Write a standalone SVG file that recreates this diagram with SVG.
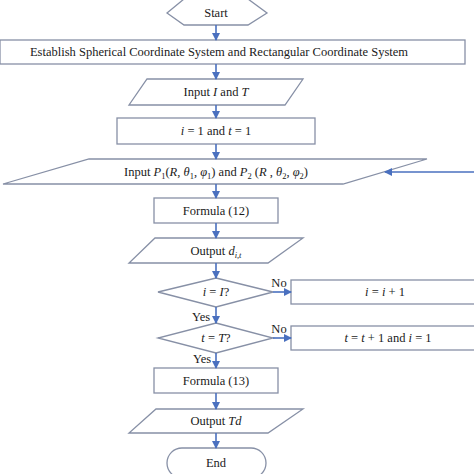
<svg xmlns="http://www.w3.org/2000/svg" width="474" height="474" viewBox="0 0 474 474">
<defs>
<marker id="ah" markerWidth="8" markerHeight="8" refX="7" refY="4" orient="auto" markerUnits="userSpaceOnUse">
<path d="M0,0 L8,4 L0,8 Z" fill="#4a70bf"/>
</marker>
</defs>
<style>
.s{fill:#fff;stroke:#8790a6;stroke-width:1.3}
.c{fill:none;stroke:#4a70bf;stroke-width:1.6;marker-end:url(#ah)}
text{font-family:"Liberation Serif","Times New Roman",serif;font-size:12.5px;fill:#1a1a1a}
.m{text-anchor:middle;dominant-baseline:central}
.i{font-style:italic}
.sub{font-size:8.5px}
</style>
<rect width="474" height="474" fill="#fff"/>
<g id="start"><polygon class="s" points="167,13 184,-1 248,-1 267,13 248,25 184,25"/><text class="m" x="216" y="13">Start</text></g>
<g id="establish"><rect class="s" x="0" y="40" width="465" height="24"/><text class="m" x="219" y="52">Establish Spherical Coordinate System and Rectangular Coordinate System</text></g>
<g id="inputIT"><polygon class="s" points="147,79 303,79 285,105 129,105"/><text class="m" x="216" y="92">Input <tspan class="i">I</tspan> and <tspan class="i">T</tspan></text></g>
<g id="init"><rect class="s" x="117" y="118" width="198" height="26"/><text class="m" x="216" y="131"><tspan class="i">i</tspan> = 1 and <tspan class="i">t</tspan> = 1</text></g>
<g id="inputP"><polygon class="s" points="89,159 427,159 343,184 3,184"/><text x="216" y="175.5" text-anchor="middle">Input <tspan class="i">P</tspan><tspan class="sub" dy="3">1</tspan><tspan dy="-3">(</tspan><tspan class="i">R</tspan>, <tspan class="i">θ</tspan><tspan class="sub" dy="3">1</tspan><tspan dy="-3">, </tspan><tspan class="i">φ</tspan><tspan class="sub" dy="3">1</tspan><tspan dy="-3">) and </tspan><tspan class="i">P</tspan><tspan class="sub" dy="3">2</tspan><tspan dy="-3"> (</tspan><tspan class="i">R</tspan> , <tspan class="i">θ</tspan><tspan class="sub" dy="3">2</tspan><tspan dy="-3">, </tspan><tspan class="i">φ</tspan><tspan class="sub" dy="3">2</tspan><tspan dy="-3">)</tspan></text></g>
<g id="formula12"><rect class="s" x="154" y="198" width="124" height="25"/><text class="m" x="216" y="210.5">Formula (12)</text></g>
<g id="outputD"><polygon class="s" points="155,238 303,238 268,263 129,263"/><text x="216" y="254.5" text-anchor="middle">Output <tspan class="i">d</tspan><tspan class="sub i" dy="3">i,t</tspan></text></g>
<g id="decisionI"><polygon class="s" points="216,278 273,292 216,307 158,292"/><text class="m" x="216" y="292"><tspan class="i">i</tspan> = <tspan class="i">I</tspan>?</text></g>
<g id="incI"><rect class="s" x="291" y="280" width="190" height="24"/><text class="m" x="385" y="292"><tspan class="i">i</tspan> = <tspan class="i">i</tspan> + 1</text></g>
<g id="decisionT"><polygon class="s" points="216,323 273,338 216,353 158,338"/><text class="m" x="216" y="338"><tspan class="i">t</tspan> = <tspan class="i">T</tspan>?</text></g>
<g id="incT"><rect class="s" x="291" y="326" width="190" height="24"/><text class="m" x="388" y="338"><tspan class="i">t</tspan> = <tspan class="i">t</tspan> + 1 and <tspan class="i">i</tspan> = 1</text></g>
<g id="formula13"><rect class="s" x="154" y="368" width="124" height="25"/><text class="m" x="216" y="380.5">Formula (13)</text></g>
<g id="outputTd"><polygon class="s" points="156,409 303,409 268,433 129,433"/><text class="m" x="216" y="421">Output <tspan class="i">Td</tspan></text></g>
<g id="end"><rect class="s" x="167" y="448" width="99" height="30" rx="15"/><text class="m" x="216" y="463">End</text></g>
<g id="connectors">
<line class="c" x1="216" y1="25" x2="216" y2="40"/>
<line class="c" x1="216" y1="64" x2="216" y2="79"/>
<line class="c" x1="216" y1="105" x2="216" y2="118"/>
<line class="c" x1="216" y1="144" x2="216" y2="159"/>
<line class="c" x1="216" y1="184" x2="216" y2="198"/>
<line class="c" x1="216" y1="223" x2="216" y2="238"/>
<line class="c" x1="216" y1="263" x2="216" y2="278"/>
<line class="c" x1="216" y1="307" x2="216" y2="323"/>
<line class="c" x1="216" y1="353" x2="216" y2="368"/>
<line class="c" x1="216" y1="393" x2="216" y2="409"/>
<line class="c" x1="216" y1="433" x2="216" y2="448"/>
<line class="c" x1="273" y1="292" x2="291" y2="292"/>
<line class="c" x1="273" y1="338" x2="291" y2="338"/>
<line class="c" x1="474" y1="172" x2="385" y2="172"/>
<text x="279" y="287" text-anchor="middle">No</text>
<text x="279" y="333" text-anchor="middle">No</text>
<text x="201" y="321" text-anchor="middle">Yes</text>
<text x="202" y="363" text-anchor="middle">Yes</text>
</g>
</svg>
